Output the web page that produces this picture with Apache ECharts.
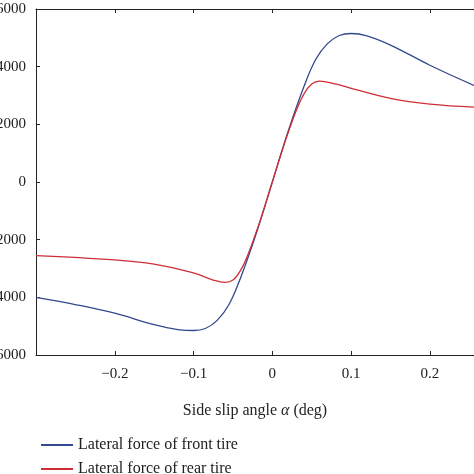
<!DOCTYPE html>
<html><head><meta charset="utf-8">
<script src="https://cdn.jsdelivr.net/npm/echarts@6/dist/echarts.min.js"></script>
<style>html,body{margin:0;overflow:hidden;background:#fff}#c{position:absolute;left:-30px;top:0;width:504px;height:474px}</style>
</head><body><div id="c"></div>
<script>
// side slip angle (deg) vs lateral force (N)
var frontX = [-0.3,-0.25,-0.2,-0.15,-0.12,-0.1,-0.085,-0.07,-0.055,-0.04,-0.02,0,0.02,0.04,0.055,0.07,0.085,0.1,0.12,0.15,0.2,0.256];
var frontY = [-4000,-4250,-4550,-4950,-5120,-5150,-5080,-4800,-4250,-3300,-1750,0,1750,3300,4250,4800,5080,5150,5070,4750,4050,3350];
var rearX = [-0.3,-0.2,-0.15,-0.1,-0.075,-0.06,-0.05,-0.04,-0.03,-0.015,0,0.015,0.03,0.04,0.05,0.06,0.08,0.1,0.15,0.2,0.256];
var rearY = [-2550,-2700,-2850,-3150,-3400,-3480,-3400,-3050,-2450,-1300,0,1300,2450,3050,3400,3500,3400,3250,2900,2700,2600];
var seriesNames = ['Lateral force of front tire','Lateral force of rear tire'];
var colors = ['#34488c','#cf2e36'];

function zip(xs, ys){ return xs.map(function(x,i){ return [x, ys[i]]; }); }
function fmt(v){ var s = String(Math.round(v*1000)/1000); return s.replace('-', '\u2212'); }

var font = 'Liberation Serif';
function legendFor(i, top){
  return {
    left: 66, top: top, itemWidth: 32, itemHeight: 2, icon: 'rect',
    textStyle: {fontFamily: font, fontSize: 16, color: '#222'},
    data: [seriesNames[i]]
  };
}
var chart = echarts.init(document.getElementById('c'));
chart.setOption({
  animation: false,
  textStyle: {fontFamily: font},
  grid: {left: 66, right: 0, top: 9, bottom: 119, outerBoundsMode: 'none', containLabel: false},
  legend: [legendFor(0, 432), legendFor(1, 456)],
  xAxis: [{
    type: 'value', min: -0.3, max: 0.256, interval: 0.1,
    axisLine: {onZero: false, lineStyle: {color: '#222'}},
    axisTick: {inside: true, length: 4, lineStyle: {color: '#222'}},
    axisLabel: {fontSize: 15, color: '#222', margin: 12, showMinLabel: false, showMaxLabel: false, formatter: fmt},
    splitLine: {show: false},
    name: '{n|Side slip angle }{a|\u03b1}{n| (deg)}', nameLocation: 'middle', nameGap: 48,
    nameTextStyle: {rich: {n: {fontFamily: font, fontSize: 16, color: '#222'}, a: {fontFamily: font, fontSize: 16, fontStyle: 'italic', color: '#222'}}}
  }, {
    type: 'value', position: 'top', min: -0.3, max: 0.256, interval: 0.1,
    axisLine: {onZero: false, lineStyle: {color: '#222'}},
    axisTick: {inside: true, length: 4, lineStyle: {color: '#222'}},
    axisLabel: {show: false}, splitLine: {show: false}
  }],
  yAxis: {
    type: 'value', min: -6000, max: 6000, interval: 2000,
    axisLine: {show: true, onZero: false, lineStyle: {color: '#222'}},
    axisTick: {show: true, inside: true, length: 4, lineStyle: {color: '#222'}},
    axisLabel: {fontSize: 15, color: '#222', margin: 10, formatter: fmt},
    splitLine: {show: false}
  },
  series: [
    {name: seriesNames[0], type: 'line', smooth: 0.4, showSymbol: false, data: zip(frontX, frontY), lineStyle: {width: 1.3, color: colors[0]}, itemStyle: {color: colors[0]}},
    {name: seriesNames[1], type: 'line', smooth: 0.4, showSymbol: false, data: zip(rearX, rearY), lineStyle: {width: 1.3, color: colors[1]}, itemStyle: {color: colors[1]}}
  ]
});
</script></body></html>
